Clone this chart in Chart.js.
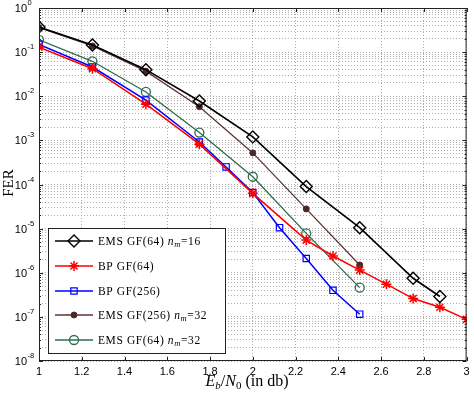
<!DOCTYPE html>
<html>
<head>
<meta charset="utf-8">
<script src="https://cdn.jsdelivr.net/npm/chart.js@4/dist/chart.umd.min.js"></script>
<style>
  html, body { margin: 0; padding: 0; background: #fff; }
  #wrap { width: 474px; height: 395px; }
</style>
</head>
<body>
<div id="wrap"><canvas id="fer-chart"></canvas></div>
<script>
// Eb/N0 (dB) and FER values
const ebn0Ems64n16 = [1, 1.25, 1.5, 1.75, 2, 2.25, 2.5, 2.75, 2.875];
const ferEms64n16 = [0.37, 0.145, 0.040, 0.0078, 0.0012, 9.0e-5, 1.05e-5, 7.5e-7, 2.9e-7];

const ebn0Bp64 = [1, 1.25, 1.5, 1.75, 2, 2.25, 2.375, 2.5, 2.625, 2.75, 2.875, 3];
const ferBp64 = [0.13, 0.042, 0.0066, 8.2e-4, 6.3e-5, 5.5e-6, 2.4e-6, 1.15e-6, 5.5e-7, 2.6e-7, 1.65e-7, 8.8e-8];

const ebn0Bp256 = [1, 1.25, 1.5, 1.75, 1.875, 2, 2.125, 2.25, 2.375, 2.5];
const ferBp256 = [0.15, 0.046, 0.0082, 9.2e-4, 2.5e-4, 6.6e-5, 1.05e-5, 2.1e-6, 4.0e-7, 1.15e-7];

const ebn0Ems256n32 = [1, 1.25, 1.5, 1.75, 2, 2.25, 2.5];
const ferEms256n32 = [0.36, 0.138, 0.037, 0.0058, 5.2e-4, 2.8e-5, 1.5e-6];

const ebn0Ems64n32 = [1, 1.25, 1.5, 1.75, 2, 2.25, 2.5];
const ferEms64n32 = [0.19, 0.062, 0.0125, 0.0015, 1.5e-4, 7.8e-6, 4.6e-7];

// legend text pieces: [prefix, italic n with subscript m?, suffix]
const seriesNames = [
    ['EMS GF(64) ', true, '=16'],
    ['BP GF(64)', false, ''],
    ['BP GF(256)', false, ''],
    ['EMS GF(256) ', true, '=32'],
    ['EMS GF(64) ', true, '=32']
];

const xTicks = [1, 1.2, 1.4, 1.6, 1.8, 2, 2.2, 2.4, 2.6, 2.8, 3];
const yTickExponents = [0, -1, -2, -3, -4, -5, -6, -7, -8];

const pts = (xs, ys) => xs.map((x, i) => ({ x: x, y: ys[i] }));

const SERIF = '"Liberation Serif", "DejaVu Serif", serif';
const SANS = '"Liberation Sans", Arial, sans-serif';

function drawPlotText(chart) {
    const ctx = chart.ctx;
    const a = chart.chartArea;
    const xs = chart.scales.x;
    const ys = chart.scales.y;
    ctx.save();

    // frame + inward ticks
    ctx.strokeStyle = '#222';
    ctx.lineWidth = 1;
    ctx.strokeRect(a.left + 0.5, a.top + 0.5, a.right - a.left - 1, a.bottom - a.top - 1);
    ctx.beginPath();
    xTicks.forEach(v => {
        const px = Math.round(xs.getPixelForValue(v)) + 0.5;
        ctx.moveTo(px, a.bottom); ctx.lineTo(px, a.bottom - 4);
        ctx.moveTo(px, a.top); ctx.lineTo(px, a.top + 4);
    });
    yTickExponents.forEach(e => {
        for (let m = 1; m <= 9; m++) {
            const v = m * Math.pow(10, e);
            if (v > 1) continue;
            const py = Math.round(ys.getPixelForValue(v)) + 0.5;
            const len = m === 1 ? 4 : 2;
            ctx.moveTo(a.left, py); ctx.lineTo(a.left + len, py);
            ctx.moveTo(a.right, py); ctx.lineTo(a.right - len, py);
        }
    });
    ctx.stroke();

    // y tick labels 10^k
    ctx.fillStyle = '#000';
    ctx.textBaseline = 'middle';
    yTickExponents.forEach(e => {
        const py = ys.getPixelForValue(Math.pow(10, e));
        ctx.font = '11px ' + SANS;
        ctx.textAlign = 'right';
        ctx.fillText('10', 27, py + 1);
        ctx.font = '7.5px ' + SANS;
        ctx.textAlign = 'left';
        ctx.fillText(String(e), 27.5, py - 5);
    });

    // y title
    ctx.save();
    ctx.translate(9, 183);
    ctx.rotate(-Math.PI / 2);
    ctx.font = '15px ' + SERIF;
    ctx.textAlign = 'center';
    ctx.fillText('FER', 0, 0);
    ctx.restore();

    // x title: E_b/N_0 (in db)
    const parts = [
        { t: 'E', f: 'italic 16px ' + SERIF, dy: 0 },
        { t: 'b', f: 'italic 11px ' + SERIF, dy: 3 },
        { t: '/', f: '16px ' + SERIF, dy: 0 },
        { t: 'N', f: 'italic 16px ' + SERIF, dy: 0 },
        { t: '0', f: '11px ' + SERIF, dy: 3 },
        { t: ' (in db)', f: '16px ' + SERIF, dy: 0 }
    ];
    let total = 0;
    parts.forEach(p => { ctx.font = p.f; p.w = ctx.measureText(p.t).width; total += p.w; });
    let cx = 247 - total / 2;
    ctx.textAlign = 'left';
    ctx.textBaseline = 'alphabetic';
    parts.forEach(p => { ctx.font = p.f; ctx.fillText(p.t, cx, 386 + p.dy); cx += p.w; });

    // legend box
    const bx = 48, by = 228, bw = 177, bh = 125;
    ctx.fillStyle = '#fff';
    ctx.fillRect(bx, by, bw, bh);
    ctx.strokeStyle = '#222';
    ctx.lineWidth = 1;
    ctx.strokeRect(bx + 0.5, by + 0.5, bw, bh);
    ctx.letterSpacing = '0.6px';
    chart.data.datasets.forEach((ds, i) => {
        const y = Math.round(241 + i * 24.75);
        ctx.strokeStyle = ds.borderColor;
        ctx.lineWidth = ds.borderWidth;
        ctx.beginPath();
        ctx.moveTo(55, y); ctx.lineTo(93, y);
        ctx.stroke();
        ctx.fillStyle = ds.pointBackgroundColor;
        ctx.strokeStyle = ds.pointBorderColor;
        ctx.lineWidth = ds.pointBorderWidth;
        Chart.helpers.drawPoint(ctx, {
            pointStyle: ds.pointStyle, radius: ds.pointRadius, rotation: 0, borderWidth: ds.pointBorderWidth
        }, 74, y);
        const nm = seriesNames[i];
        ctx.fillStyle = '#000';
        ctx.textBaseline = 'middle';
        let tx = 98;
        ctx.font = '11.5px ' + SERIF;
        ctx.fillText(nm[0], tx, y + 1);
        tx += ctx.measureText(nm[0]).width;
        if (nm[1]) {
            ctx.font = 'italic 11.5px ' + SERIF;
            ctx.fillText('n', tx, y + 1);
            tx += ctx.measureText('n').width;
            ctx.font = 'italic 8.5px ' + SERIF;
            ctx.fillText('m', tx, y + 4);
            tx += ctx.measureText('m').width;
            ctx.font = '11.5px ' + SERIF;
            ctx.fillText(nm[2], tx, y + 1);
        }
    });
    ctx.restore();
}

const ctx = document.getElementById('fer-chart');
const ferChart = new Chart(ctx, {
    type: 'line',
    data: {
        datasets: [{
            label: 'EMS GF(64) nm=16',
            data: pts(ebn0Ems64n16, ferEms64n16),
            borderColor: '#000000',
            borderWidth: 1.6,
            pointStyle: 'rectRot',
            pointRadius: 6,
            pointBackgroundColor: 'rgba(255,255,255,0)',
            pointBorderColor: '#000000',
            pointBorderWidth: 1.4
        }, {
            label: 'BP GF(64)',
            data: pts(ebn0Bp64, ferBp64),
            borderColor: '#ff0000',
            borderWidth: 1.5,
            pointStyle: 'star',
            pointRadius: 5,
            pointBackgroundColor: '#ff0000',
            pointBorderColor: '#ff0000',
            pointBorderWidth: 1.5
        }, {
            label: 'BP GF(256)',
            data: pts(ebn0Bp256, ferBp256),
            borderColor: '#0000ff',
            borderWidth: 1.5,
            pointStyle: 'rect',
            pointRadius: 4.5,
            pointBackgroundColor: 'rgba(255,255,255,0)',
            pointBorderColor: '#0000ff',
            pointBorderWidth: 1.2
        }, {
            label: 'EMS GF(256) nm=32',
            data: pts(ebn0Ems256n32, ferEms256n32),
            borderColor: '#5e3434',
            borderWidth: 1.3,
            pointStyle: 'circle',
            pointRadius: 3,
            pointBackgroundColor: '#4a2828',
            pointBorderColor: '#4a2828',
            pointBorderWidth: 1
        }, {
            label: 'EMS GF(64) nm=32',
            data: pts(ebn0Ems64n32, ferEms64n32),
            borderColor: '#2f6b4c',
            borderWidth: 1.3,
            pointStyle: 'circle',
            pointRadius: 4.5,
            pointBackgroundColor: 'rgba(255,255,255,0)',
            pointBorderColor: '#2f6b4c',
            pointBorderWidth: 1.3
        }]
    },
    options: {
        responsive: true,
        maintainAspectRatio: false,
        animation: false,
        events: [],
        layout: { padding: { top: 8, right: 7, left: 0, bottom: 0 } },
        plugins: {
            legend: { display: false },
            tooltip: { enabled: false }
        },
        scales: {
            x: {
                type: 'linear',
                min: 1,
                max: 3,
                afterBuildTicks: s => { s.ticks = xTicks.map(v => ({ value: v })); },
                afterFit: s => { s.height = 34; },
                ticks: {
                    color: '#000',
                    font: { family: SANS, size: 11 },
                    padding: 4,
                    maxRotation: 0,
                    callback: v => String(Number(v.toFixed(1)))
                },
                grid: { color: '#9a9a9a', lineWidth: 0.8, drawTicks: false },
                border: { display: false, dash: [1, 2] }
            },
            y: {
                type: 'logarithmic',
                min: 1e-8,
                max: 1,
                afterBuildTicks: s => {
                    const t = [];
                    yTickExponents.forEach(e => {
                        for (let m = 1; m <= 9; m++) {
                            const v = m * Math.pow(10, e);
                            if (v <= 1) t.push({ value: v, major: m === 1 });
                        }
                    });
                    s.ticks = t;
                },
                afterFit: s => { s.width = 39; },
                ticks: { display: false },
                grid: { color: '#9a9a9a', lineWidth: 0.8, drawTicks: false },
                border: { display: false, dash: [1, 2] }
            }
        }
    },
    plugins: [{ id: 'matlabFrame', afterDraw: drawPlotText }]
});
</script>
</body>
</html>
